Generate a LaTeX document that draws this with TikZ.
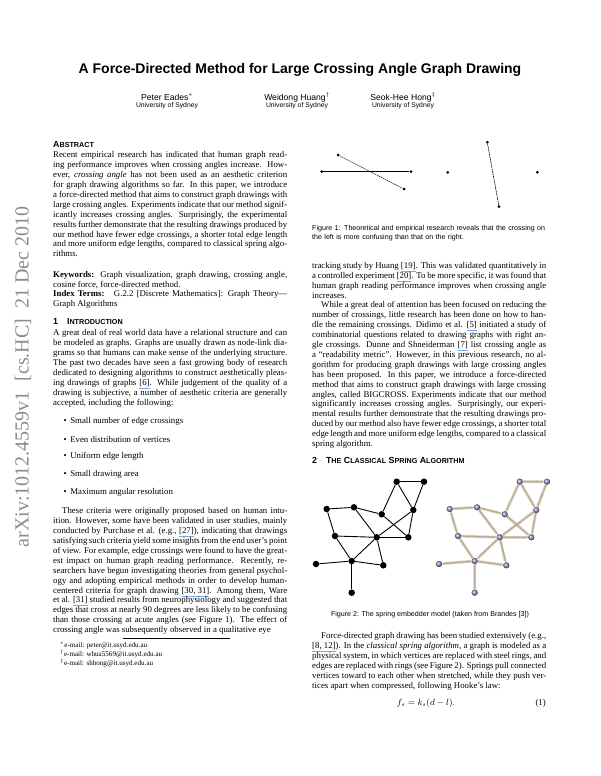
\documentclass[tikz,border=0pt]{standalone}
\usepackage{fontspec}
\setmainfont{Liberation Serif}
\setsansfont{Liberation Sans}
\usetikzlibrary{decorations.pathmorphing}
\definecolor{linkblue}{RGB}{120,170,230}
\definecolor{springc}{RGB}{185,170,145}
\definecolor{ballc}{RGB}{150,150,205}
\newcommand{\cit}[1]{\textcolor{linkblue}{\underline{\textcolor{black}{#1}}}}
\newcommand{\fsc}[2]{#1{\fontsize{7.2}{9}\selectfont #2}}
\tikzset{
  para/.style={anchor=north west,inner sep=0,text width=234pt,align=justify,
    font=\fontsize{8.8}{9.9}\selectfont},
  head/.style={anchor=west,inner sep=0,font=\sffamily\bfseries\fontsize{8.8}{10}\selectfont},
  bul/.style={anchor=west,inner sep=0,font=\fontsize{8.8}{9.9}\selectfont},
  figcap/.style={anchor=north west,inner sep=0,text width=234pt,align=left,
    font=\sffamily\fontsize{7.1}{9.4}\selectfont},
  dot/.style={circle,fill=black,inner sep=0,minimum size=3pt},
  gv/.style={circle,fill=black,inner sep=0,minimum size=6.5pt},
  sv/.style={circle,shading=ball,ball color=ballc,inner sep=0,minimum size=6pt},
  ge/.style={line width=0.9pt},
  se/.style={springc,line width=0.45pt,decorate,decoration={coil,aspect=0,segment length=1.1pt,amplitude=0.9pt}},
}
\begin{document}
\begin{tikzpicture}[x=1pt,y=-1pt]
\useasboundingbox (0,0) rectangle (600,776);
\fill[white] (0,0) rectangle (600,776);
% arXiv stamp
\node[rotate=90,text=black!45,font=\fontsize{20}{20}\selectfont,inner sep=0] (arx) at (23,377) {arXiv:1012.4559v1\ \ [cs.HC]\ \ 21 Dec 2010};
% title
\node[font=\sffamily\bfseries\fontsize{14}{16}\selectfont,inner sep=0] (title) at (300,70) {A Force-Directed Method for Large Crossing Angle Graph Drawing};
\node[font=\sffamily\fontsize{8.6}{10}\selectfont,inner sep=0] (a1) at (167,97) {Peter Eades$^{*}$};
\node[font=\sffamily\fontsize{8.6}{10}\selectfont,inner sep=0] (a2) at (297,97) {Weidong Huang$^{\dagger}$};
\node[font=\sffamily\fontsize{8.6}{10}\selectfont,inner sep=0] (a3) at (403,97) {Seok-Hee Hong$^{\ddagger}$};
\node[font=\sffamily\fontsize{6.8}{8}\selectfont,inner sep=0] (u1) at (167,105.5) {University of Sydney};
\node[font=\sffamily\fontsize{6.8}{8}\selectfont,inner sep=0] (u2) at (297,105.5) {University of Sydney};
\node[font=\sffamily\fontsize{6.8}{8}\selectfont,inner sep=0] (u3) at (403,105.5) {University of Sydney};
% left column
\node[head] (abs) at (53,145) {\fsc{A}{BSTRACT}};
\node[para] (abstxt) at (53,151.5) {Recent empirical research has indicated that human graph reading performance improves when crossing angles increase. However, \emph{crossing angle} has not been used as an aesthetic criterion for graph drawing algorithms so far. In this paper, we introduce a force-directed method that aims to construct graph drawings with large crossing angles. Experiments indicate that our method significantly increases crossing angles. Surprisingly, the experimental results further demonstrate that the resulting drawings produced by our method have fewer edge crossings, a shorter total edge length and more uniform edge lengths, compared to classical spring algorithms.};
\node[para] (kw) at (53,271.5) {\textbf{Keywords:}\ \ Graph visualization, graph drawing, crossing angle, cosine force, force-directed method.};
\node[para] (it) at (53,290.5) {\textbf{Index Terms:}\ \ \ G.2.2 [Discrete Mathematics]: Graph Theory---Graph Algorithms};
\node[head] (s1) at (53,321.7) {1\hspace{9pt}\fsc{I}{NTRODUCTION}};
\node[para] (p1) at (53,329.5) {A great deal of real world data have a relational structure and can be modeled as graphs. Graphs are usually drawn as node-link diagrams so that humans can make sense of the underlying structure. The past two decades have seen a fast growing body of research dedicated to designing algorithms to construct aesthetically pleasing drawings of graphs \cit{[6]}. While judgement of the quality of a drawing is subjective, a number of aesthetic criteria are generally accepted, including the following:};
\foreach \yy/\txt [count=\i] in {421.7/Small number of edge crossings,439.3/Even distribution of vertices,456.7/Uniform edge length,474.3/Small drawing area,492.7/Maximum angular resolution}{
  \node[bul] (b\i) at (63.5,\yy) {\textbullet\hspace{3.5pt}\txt};
}
\node[para] (p2) at (53,507.5) {\hspace*{9pt}These criteria were originally proposed based on human intuition. However, some have been validated in user studies, mainly conducted by Purchase et al. (e.g., \cit{[27]}), indicating that drawings satisfying such criteria yield some insights from the end user's point of view. For example, edge crossings were found to have the greatest impact on human graph reading performance. Recently, researchers have begun investigating theories from general psychology and adopting empirical methods in order to develop human-centered criteria for graph drawing \cit{[30, 31]}. Among them, Ware et al. \cit{[31]} studied results from neurophysiology and suggested that edges that cross at nearly 90 degrees are less likely to be confusing than those crossing at acute angles (see Figure 1). The effect of crossing angle was subsequently observed in a qualitative eye};
\coordinate (r1) at (123,638); \coordinate (r2) at (230,638);
\draw[line width=0.5pt] (r1) -- (r2);
\node[anchor=north west,inner sep=0,font=\fontsize{7.1}{9.1}\selectfont,align=left] (fn) at (60,642) {$^{*}$e-mail: peter@it.usyd.edu.au\\$^{\dagger}$e-mail: whua5569@it.usyd.edu.au\\$^{\ddagger}$e-mail: shhong@it.usyd.edu.au};
% Figure 1
\node[dot] (f1a) at (321.7,171.7) {}; \node[dot] (f1b) at (411,171.7) {};
\node[dot] (f1c) at (338,155) {}; \node[dot] (f1d) at (404,189) {};
\draw[line width=0.7pt] (f1a) -- (f1b);
\draw[line width=0.5pt,dash pattern=on 1.5pt off 0.7pt] (f1c) -- (f1d);
\node[dot] (f1e) at (447.7,172.3) {}; \node[dot] (f1f) at (537.3,172.3) {};
\node[dot] (f1g) at (487.3,142.3) {}; \node[dot] (f1h) at (499,206.7) {};
\draw[line width=0.6pt,dash pattern=on 1.8pt off 0.7pt] (f1g) -- (f1h);
\node[figcap] (c1) at (312,225) {Figure 1: Theoretical and empirical research reveals that the crossing on the left is more confusing than that on the right.};
% right column
\node[para] (p3) at (312,262) {tracking study by Huang \cit{[19]}. This was validated quantitatively in a controlled experiment \cit{[20]}. To be more specific, it was found that human graph reading performance improves when crossing angle increases.\par
\hspace*{9pt}While a great deal of attention has been focused on reducing the number of crossings, little research has been done on how to handle the remaining crossings. Didimo et al. \cit{[5]} initiated a study of combinatorial questions related to drawing graphs with right angle crossings. Dunne and Shneiderman \cit{[7]} list crossing angle as a ``readability metric''. However, in this previous research, no algorithm for producing graph drawings with large crossing angles has been proposed. In this paper, we introduce a force-directed method that aims to construct graph drawings with large crossing angles, called BIGCROSS. Experiments indicate that our method significantly increases crossing angles. Surprisingly, our experimental results further demonstrate that the resulting drawings produced by our method also have fewer edge crossings, a shorter total edge length and more uniform edge lengths, compared to a classical spring algorithm.};
\node[head] (s2) at (312,460.7) {2\hspace{9pt}\fsc{T}{HE} \fsc{C}{LASSICAL} \fsc{S}{PRING} \fsc{A}{LGORITHM}};
% Figure 2
\foreach \n/\x/\y in {A/396.7/481.7,B/424/481.7,C/326.7/509,D/354/507.3,E/381.7/514.3,F/413.3/510,G/335/536,H/376.7/537.3,I/408.3/537.3,J/316/564,K/351.7/561,L/383.3/565.3,M/351.7/592.7}{
  \node[gv] (g\n) at (\x,\y) {};
  \node[sv] (s\n) at (\x+123,\y) {};
}
\foreach \u/\v in {A/B,A/E,A/F,B/F,C/D,C/G,D/E,D/H,E/I,F/H,F/I,G/H,H/I,G/K,H/K,K/J,K/L,H/L,K/M}{
  \draw[ge] (g\u) -- (g\v);
  \draw[se] (s\u) -- (s\v);
}
\foreach \n in {A,B,C,D,E,F,G,H,I,J,K,L,M}{\node[sv] at (s\n) {};}
\node[anchor=north,inner sep=0,font=\sffamily\fontsize{7.1}{9}\selectfont] (c2) at (430,611) {Figure 2: The spring embedder model (taken from Brandes [3])};
\node[para] (p4) at (312,632.5) {\hspace*{9pt}Force-directed graph drawing has been studied extensively (e.g., \cit{[8, 12]}). In the \emph{classical spring algorithm}, a graph is modeled as a physical system, in which vertices are replaced with steel rings, and edges are replaced with rings (see Figure 2). Springs pull connected vertices toward to each other when stretched, while they push vertices apart when compressed, following Hooke's law:};
\node[inner sep=0,font=\fontsize{8.8}{10}\selectfont] (eq) at (426,703) {$f_s = k_s(d-l).$};
\node[anchor=east,inner sep=0,font=\fontsize{8.8}{10}\selectfont] (eqn) at (546,703) {(1)};
\end{tikzpicture}
\end{document}
